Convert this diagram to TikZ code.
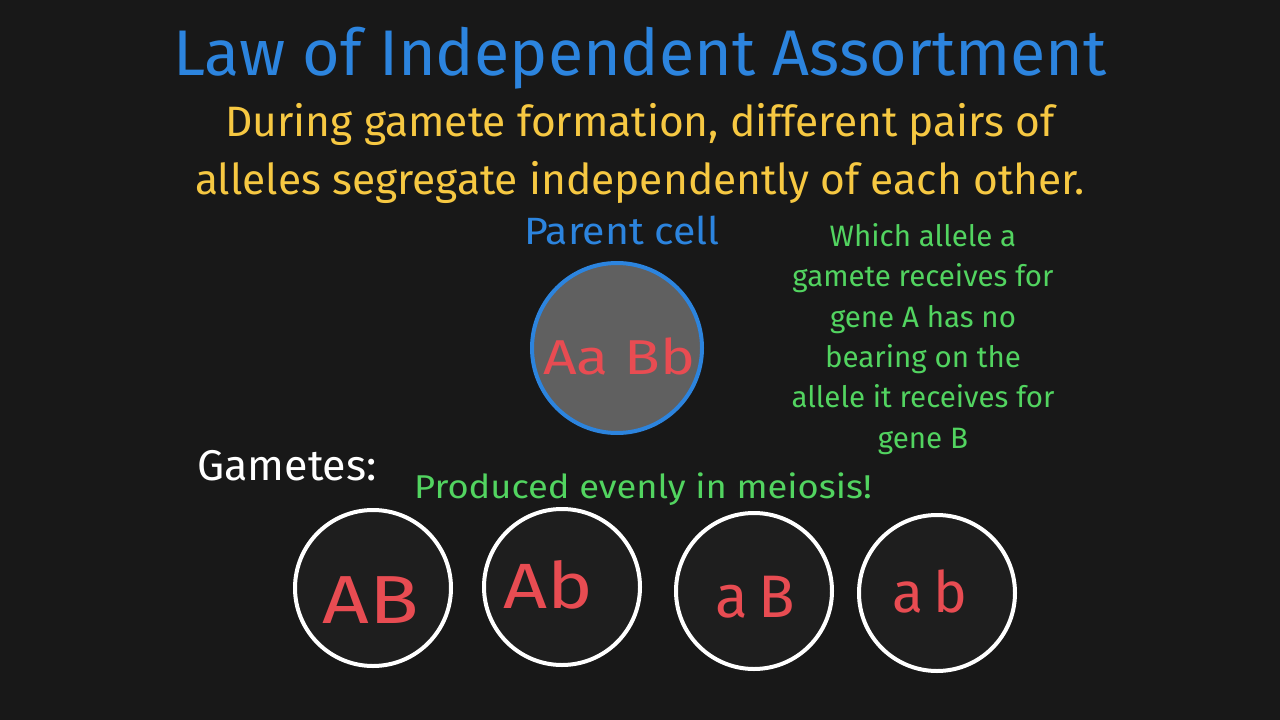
\documentclass[tikz,border=0pt]{standalone}
\usepackage{fontspec}
\setmainfont{Fira Sans}
\usepackage{tikz}
\usetikzlibrary{positioning}
\definecolor{boardbg}{RGB}{24, 24, 24}
\definecolor{titleblue}{RGB}{44, 132, 222}
\definecolor{lawyellow}{RGB}{246, 200, 66}
\definecolor{notegreen}{RGB}{82, 212, 96}
\definecolor{allelered}{RGB}{232, 76, 82}
\definecolor{cellgray}{RGB}{96, 96, 96}
\definecolor{gametefill}{RGB}{30, 30, 30}
\newcommand{\widen}[2][1.2]{\scalebox{#1}[1]{#2}}
\tikzset{
  parentcell/.style={circle, draw=titleblue, line width=4pt, fill=cellgray, minimum size=170pt, inner sep=0pt},
  gametecell/.style={circle, draw=white, line width=4pt, fill=gametefill, minimum size=156pt, inner sep=0pt},
  allele/.style={text=allelered, font=\fontsize{68}{70}\selectfont},
  notetext/.style={text=notegreen, align=center, font=\fontsize{29.5}{40.4}\selectfont}
}
\begin{document}
\begin{tikzpicture}[x=1pt, y=-1pt]
    % --- BOARD ---
    \fill[boardbg] (0,0) rectangle (1280,720);
    \useasboundingbox (0,0) rectangle (1280,720);

    % --- HEADINGS ---
    \node[text=titleblue, font=\fontsize{64.5}{70}\selectfont] (title) at (640, 58) {Law of Independent Assortment};
    \node[text=lawyellow, align=center, font=\fontsize{42.5}{58}\selectfont] (law) at (640, 153)
        {During gamete formation, different pairs of\\alleles segregate independently of each other.};

    % --- PARENT CELL ---
    \node[text=titleblue, font=\fontsize{38}{40}\selectfont] (parentlbl) at (622, 230) {\widen[1.08]{Parent cell}};
    \node[parentcell] (parent) at (617, 348) {};
    \node[allele, font=\fontsize{49}{52}\selectfont] at ([shift={(2,8)}]parent.center) {\widen{Aa Bb}};

    \node[notetext] (note) at (923, 339)
        {Which allele a\\gamete receives for\\gene A has no\\bearing on the\\allele it receives for\\gene B};

    % --- GAMETES ---
    \node[text=white, font=\fontsize{43}{46}\selectfont] (gametelbl) at (287, 466) {Gametes:};
    \node[text=notegreen, font=\fontsize{33}{36}\selectfont] (evenly) at (643, 489) {\widen[1.1]{Produced evenly in meiosis!}};

    \node[gametecell] (gAB) at (373, 588) {};
    \node[gametecell] (gAb) at (562, 587) {};
    \node[gametecell] (gaB) at (754, 591) {};
    \node[gametecell] (gab) at (937, 593) {};
    \node[allele] at ([shift={(-2,12)}]gAB.center) {\widen{AB}};
    \node[allele, font=\fontsize{64}{66}\selectfont] at ([shift={(-14,-2)}]gAb.center) {\widen{Ab}};
    \node[allele, font=\fontsize{60}{62}\selectfont] at ([shift={(1,6)}]gaB.center) {a\,B};
    \node[allele, font=\fontsize{57}{60}\selectfont] at ([shift={(-7,-2)}]gab.center) {a\,b};
\end{tikzpicture}
\end{document}
